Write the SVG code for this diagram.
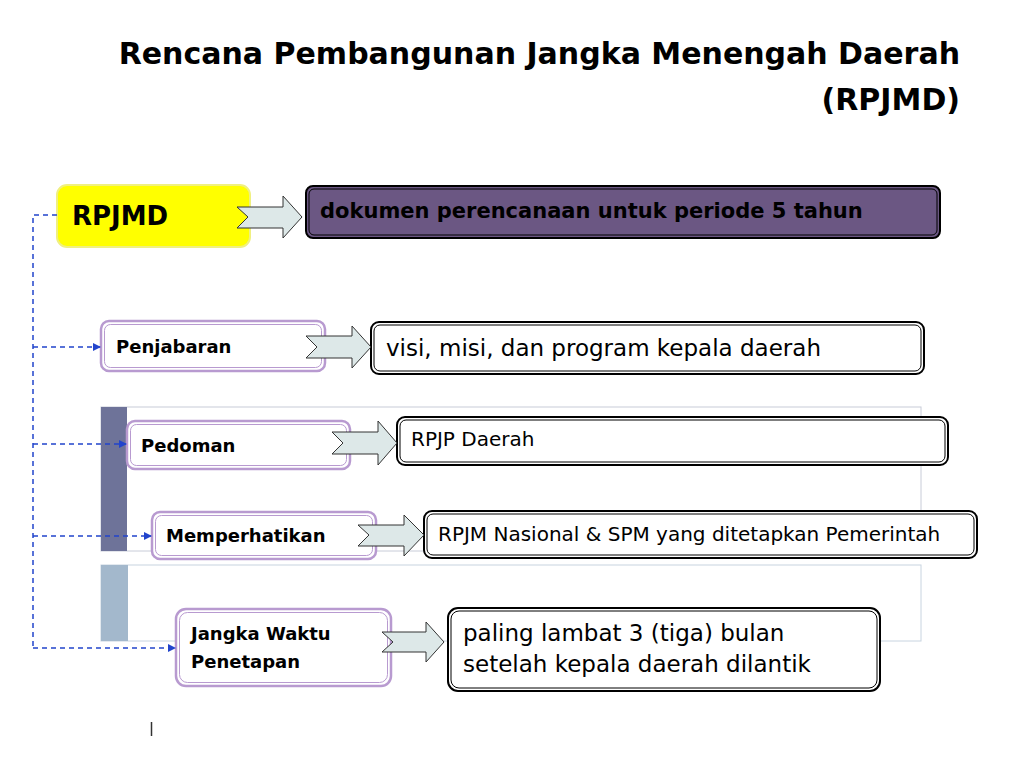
<svg xmlns="http://www.w3.org/2000/svg" width="1024" height="768" viewBox="0 0 1024 768">
<style>
text{font-family:"DejaVu Sans","Liberation Sans",sans-serif;fill:#000}
.b{font-weight:bold}
.lav{fill:#fff;stroke:#b89ad0;stroke-width:2.5}
.lavi{fill:none;stroke:#b89ad0;stroke-width:1}
.blk{fill:#fff;stroke:#000;stroke-width:2}
.blki{fill:none;stroke:#000;stroke-width:1}
.arr{fill:#dde8e8;stroke:#333;stroke-width:1}
.dash{fill:none;stroke:#2244cc;stroke-width:1.5;stroke-dasharray:5 4}
</style>
<defs><marker id="ah" markerWidth="8" markerHeight="8" refX="7" refY="4" orient="auto" markerUnits="userSpaceOnUse"><path d="M0,0 L8,4 L0,8 Z" fill="#2244cc"/></marker></defs>
<text class="b" x="960" y="64" font-size="30" text-anchor="end">Rencana Pembangunan Jangka Menengah Daerah</text>
<text class="b" x="960" y="110" font-size="30" text-anchor="end">(RPJMD)</text>
<g id="panels">
<rect x="101" y="407" width="820" height="144" fill="none" stroke="#c8ccd8"/>
<rect x="101" y="407" width="26" height="144" fill="#6e7399"/>
<rect x="101" y="565" width="820" height="76" fill="none" stroke="#c8d4e0"/>
<rect x="101" y="565" width="27" height="76" fill="#a3b8cc"/>
</g>
<g id="rpjmd">
<rect x="57" y="185" width="193" height="62" rx="10" fill="#ffff00" stroke="#f0f080" stroke-width="2"/>
<text class="b" x="72" y="225" font-size="26">RPJMD</text>
</g>
<g id="dokumen">
<rect x="306" y="186" width="634" height="52" rx="7" fill="#6b5783" stroke="#000" stroke-width="2"/>
<rect x="309" y="189" width="628" height="46" rx="5" fill="none" stroke="#000" stroke-width="1"/>
<text class="b" x="320" y="218" font-size="21">dokumen perencanaan untuk periode 5 tahun</text>
</g>
<g id="penjabaran">
<rect class="lav" x="101" y="321" width="224" height="50" rx="8"/><rect class="lavi" x="104.5" y="324.5" width="217" height="43" rx="6"/>
<text class="b" x="116" y="353" font-size="18">Penjabaran</text>
</g>
<g id="visi">
<rect class="blk" x="371" y="322" width="553" height="52" rx="8"/><rect class="blki" x="374" y="325" width="547" height="46" rx="6"/>
<text x="386" y="356" font-size="23">visi, misi, dan program kepala daerah</text>
</g>
<g id="pedoman">
<rect class="lav" x="127" y="421" width="223" height="48" rx="8"/><rect class="lavi" x="130.5" y="424.5" width="216" height="41" rx="6"/>
<text class="b" x="141" y="452" font-size="18">Pedoman</text>
</g>
<g id="rpjp">
<rect class="blk" x="397" y="417" width="551" height="48" rx="8"/><rect class="blki" x="400" y="420" width="545" height="42" rx="6"/>
<text x="411" y="446" font-size="20">RPJP Daerah</text>
</g>
<g id="memperhatikan">
<rect class="lav" x="152" y="512" width="224" height="47" rx="8"/><rect class="lavi" x="155.5" y="515.5" width="217" height="40" rx="6"/>
<text class="b" x="166" y="542" font-size="18">Memperhatikan</text>
</g>
<g id="rpjm">
<rect class="blk" x="424" y="511" width="553" height="47" rx="8"/><rect class="blki" x="427" y="514" width="547" height="41" rx="6"/>
<text x="438" y="541" font-size="20">RPJM Nasional &amp; SPM yang ditetapkan Pemerintah</text>
</g>
<g id="jangka">
<rect class="lav" x="176" y="609" width="215" height="77" rx="10"/><rect class="lavi" x="179.5" y="612.5" width="208" height="70" rx="8"/>
<text class="b" x="191" y="640" font-size="18">Jangka Waktu</text>
<text class="b" x="191" y="668" font-size="18">Penetapan</text>
</g>
<g id="paling">
<rect class="blk" x="448" y="608" width="432" height="83" rx="10"/><rect class="blki" x="451" y="611" width="426" height="77" rx="8"/>
<text x="463" y="641" font-size="23">paling lambat 3 (tiga) bulan</text>
<text x="463" y="672" font-size="23">setelah kepala daerah dilantik</text>
</g>
<g id="connectors">
<polyline class="dash" points="57,215 33,215 33,648"/>
<line class="dash" x1="33" y1="347" x2="100" y2="347" stroke-dasharray="8 4 2 4" marker-end="url(#ah)"/>
<line class="dash" x1="33" y1="444" x2="126" y2="444" marker-end="url(#ah)"/>
<line class="dash" x1="33" y1="536" x2="151" y2="536" marker-end="url(#ah)"/>
<line class="dash" x1="33" y1="648" x2="175" y2="648" marker-end="url(#ah)"/>
<path class="arr" d="M237,207 L283,207 L283,196 L302,217 L283,238 L283,228 L237,228 L248,217 Z"/>
<path class="arr" d="M306,336 L352,336 L352,326 L371,347 L352,368 L352,358 L306,358 L317,347 Z"/>
<path class="arr" d="M332,432 L378,432 L378,421 L397,443 L378,465 L378,454 L332,454 L343,443 Z"/>
<path class="arr" d="M358,525 L404,525 L404,515 L424,535 L404,556 L404,546 L358,546 L369,535 Z"/>
<path class="arr" d="M382,632 L426,632 L426,622 L444,642 L426,662 L426,652 L382,652 L393,642 Z"/>
</g>
<line x1="151.5" y1="722" x2="151.5" y2="736" stroke="#333" stroke-width="1.5"/>
</svg>
